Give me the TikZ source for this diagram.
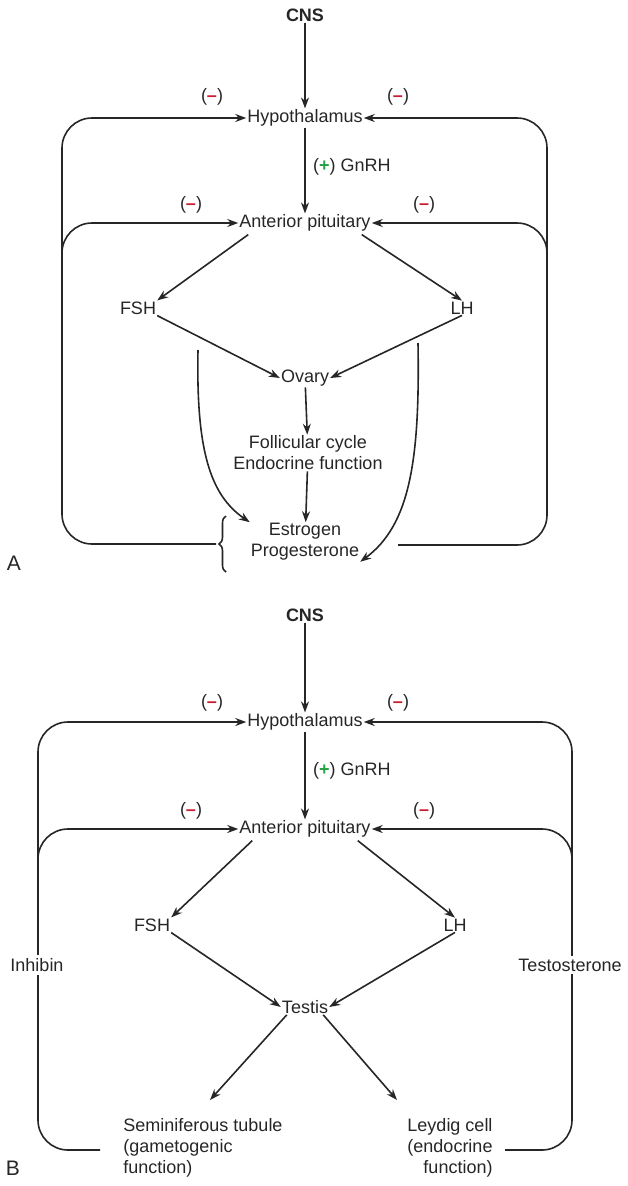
\documentclass[tikz,border=0pt]{standalone}
\usepackage{fontspec}
\setmainfont{Liberation Sans}
\usetikzlibrary{arrows.meta,decorations.pathreplacing}
\definecolor{mred}{RGB}{200,30,50}
\definecolor{mgreen}{RGB}{40,160,70}
\newcommand{\mneg}{(\textcolor{mred}{\textbf{–}})}
\newcommand{\mpos}{(\textcolor{mgreen}{\textbf{+}})}
\begin{document}
\begin{tikzpicture}[x=1pt,y=-1pt,
  lbl/.style={font=\fontsize{18}{21}\selectfont,text=black!85,inner sep=1pt,align=center},
  arr/.style={draw=black!85,line width=1.6pt,-{Stealth[length=11pt,width=8pt]}},
  ln/.style={draw=black!85,line width=1.6pt},
  rc/.style={rounded corners=30pt}]
\useasboundingbox (0,0) rectangle (628,1186);
% ---------- Panel A ----------
\node[lbl,font=\fontsize{18}{21}\selectfont\bfseries] (cnsA) at (305,15) {CNS};
\node[lbl] (hypA) at (305,118) {Hypothalamus};
\node[lbl] (apA) at (305,223) {Anterior pituitary};
\node[lbl] (fshA) at (138,308) {FSH};
\node[lbl] (lhA) at (462,308) {LH};
\node[lbl] (ovA) at (305,378) {Ovary};
\node[lbl] (folA) at (308,453) {Follicular cycle\\Endocrine function};
\node[lbl] (estA) at (305,542) {Estrogen\\Progesterone};
\node[lbl] (nA1) at (212,97) {\mneg};
\node[lbl] (nA2) at (398,97) {\mneg};
\node[lbl] (nA3) at (191,205) {\mneg};
\node[lbl] (nA4) at (424,205) {\mneg};
\node[lbl,anchor=west] (gA) at (312,167) {\mpos\ GnRH};
\node[lbl,font=\fontsize{21}{24}\selectfont] (A) at (14,563) {A};
\draw[arr] (cnsA) -- (hypA);
\draw[arr] (hypA) -- (apA);
\draw[arr] (apA.south west) ++(10,2) coordinate (a1) -- (fshA.north east);
\draw[arr] (apA.south east) ++(-10,2) coordinate (a2) -- (lhA.north);
\draw[arr] (fshA.south east) -- (ovA.west);
\draw[arr] (lhA.south) -- (ovA.east);
\draw[arr] (ovA) -- (folA);
\draw[arr] (folA) -- (estA);
\coordinate (fc) at (198,350);
\coordinate (lc) at (418,343);
\draw[arr] (fc) .. controls (196,450) and (210,495) .. (estA.north west);
\draw[arr] (lc) .. controls (420,460) and (410,525) .. (estA.south east);
\draw[ln,decorate,decoration={brace,amplitude=7pt}] (226,572) -- (226,516);
\coordinate (bt) at (216,544);
\draw[arr,rc] (bt) -| (62,118) -- (hypA.west);
\draw[arr,rc] (62,258) |- (apA.west);
\coordinate (rt) at (398,545);
\draw[arr,rc] (rt) -| (547,118) -- (hypA.east);
\draw[arr,rc] (547,258) |- (apA.east);
% ---------- Panel B ----------
\node[lbl,font=\fontsize{18}{21}\selectfont\bfseries] (cnsB) at (305,615) {CNS};
\node[lbl] (hypB) at (305,722) {Hypothalamus};
\node[lbl] (apB) at (305,829) {Anterior pituitary};
\node[lbl] (fshB) at (152,925) {FSH};
\node[lbl] (lhB) at (455,925) {LH};
\node[lbl] (tesB) at (305,1007) {Testis};
\node[lbl,align=left] (semB) at (203,1148) {Seminiferous tubule\\(gametogenic\\function)};
\node[lbl,align=right] (leyB) at (450,1148) {Leydig cell\\(endocrine\\function)};
\node[lbl] (nB1) at (212,703) {\mneg};
\node[lbl] (nB2) at (398,703) {\mneg};
\node[lbl] (nB3) at (191,811) {\mneg};
\node[lbl] (nB4) at (424,811) {\mneg};
\node[lbl,anchor=west] (gB) at (312,771) {\mpos\ GnRH};
\node[lbl,font=\fontsize{21}{24}\selectfont] (B) at (13,1168) {B};
\draw[arr] (cnsB) -- (hypB);
\draw[arr] (hypB) -- (apB);
\draw[arr] (apB.south west) ++(14,2) coordinate (b1) -- (fshB.north east);
\draw[arr] (apB.south east) ++(-14,2) coordinate (b2) -- (lhB.north);
\draw[arr] (fshB.south east) -- (tesB.west);
\draw[arr] (lhB.south) -- (tesB.east);
\draw[arr] (tesB.south west) ++(6,0) coordinate (t1) -- (210,1100) coordinate (s1);
\draw[arr] (tesB.south east) ++(-6,0) coordinate (t2) -- (397,1100) coordinate (l1);
\coordinate (bl) at (100,1150);
\coordinate (br) at (505,1150);
\draw[arr,rc] (bl) -| (38,722) -- (hypB.west);
\draw[arr,rc] (38,862) |- (apB.west);
\draw[arr,rc] (br) -| (572,722) -- (hypB.east);
\draw[arr,rc] (572,862) |- (apB.east);
\node[lbl,fill=white,inner sep=3pt] (inh) at (37,965) {Inhibin};
\node[lbl,fill=white,inner sep=3pt] (tst) at (570,965) {Testosterone};
\end{tikzpicture}
\end{document}
